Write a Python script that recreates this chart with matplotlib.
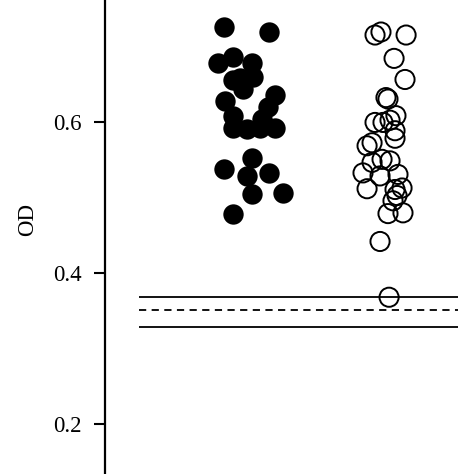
import numpy as np
import matplotlib.pyplot as plt

plt.rcParams['font.family'] = ['Liberation Serif', 'DejaVu Serif']

# Group 1 (filled): horizontal jitter and OD values
filled_jitter = [-0.193, 0.141, -0.237, -0.126, 0.015, -0.074, 0.022, -0.052,
                 0.185, -0.185, 0.133, -0.126, 0.089, -0.126, -0.022, 0.074,
                 0.185, 0.015, -0.193, -0.022, 0.141, 0.015, 0.244, -0.126,
                 -0.126]
filled_od = [0.7265, 0.720, 0.679, 0.687, 0.679, 0.659, 0.660, 0.645,
             0.637, 0.629, 0.620, 0.608, 0.604, 0.592, 0.591, 0.592,
             0.593, 0.553, 0.538, 0.529, 0.533, 0.505, 0.507, 0.479,
             0.656]

# Group 2 (open)
open_jitter = [-0.074, -0.030, 0.156, 0.067, 0.148, 0.007, 0.022, 0.081,
               -0.074, -0.015, 0.037, 0.074, 0.074, -0.133, -0.096, -0.096,
               -0.022, 0.037, -0.163, -0.037, 0.096, -0.133, 0.074, 0.126,
               0.089, 0.059, 0.022, 0.133, -0.037, 0.030]
open_od = [0.716, 0.720, 0.716, 0.685, 0.657, 0.633, 0.631, 0.609,
           0.600, 0.600, 0.603, 0.589, 0.579, 0.569, 0.573, 0.547,
           0.551, 0.549, 0.533, 0.529, 0.531, 0.512, 0.511, 0.513,
           0.503, 0.496, 0.479, 0.480, 0.442, 0.368]

# cut-off lines: upper, cut-off (dashed), lower
cutoff_upper = 0.368
cutoff = 0.351
cutoff_lower = 0.328

yticks = [0.2, 0.4, 0.6]

fig = plt.figure(figsize=(4.74, 4.74), dpi=100)
ax = fig.add_axes([105/474, 0, 1 - 105/474, 1])

ax.scatter(1 + np.array(filled_jitter), filled_od, s=215, color='black',
           edgecolor='black', linewidth=0, zorder=3)
ax.scatter(2 + np.array(open_jitter), open_od, s=190, facecolor='none',
           edgecolor='black', linewidth=1.4, zorder=3)

ax.hlines([cutoff_upper, cutoff_lower], 0.178, 2.54, color='black', lw=1.3)
ax.hlines(cutoff, 0.178, 2.54, color='black', lw=1.3, linestyles=(0, (4, 3)))

ax.set_xlim(-0.074, 2.659)
ax.set_ylim(0.1334, 0.7625)
ax.set_yticks(yticks)
ax.set_yticklabels(['0.2', '0.4', '0.6'])
ax.set_xticks([])

for s in ['top', 'right', 'bottom']:
    ax.spines[s].set_visible(False)
ax.spines['left'].set_linewidth(1.6)
ax.tick_params(axis='y', direction='out', length=8, width=1.5,
               pad=9, labelsize=16.5)

ax.set_ylabel('OD', fontsize=16.5, va='center')
ax.yaxis.set_label_coords(-0.209, 0.536)

fig.savefig('out.png', dpi=100)
